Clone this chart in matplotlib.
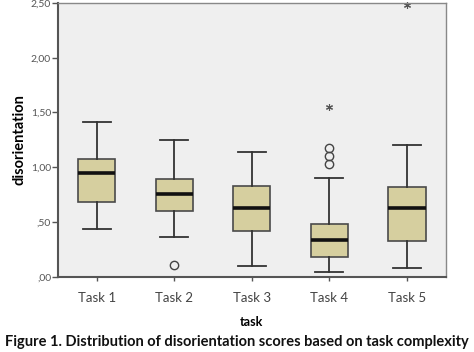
import matplotlib
matplotlib.use("Agg")
import matplotlib.pyplot as plt

categories = ["Task 1", "Task 2", "Task 3", "Task 4", "Task 5"]
whislo = [0.435, 0.36, 0.098, 0.04, 0.08]
q1 = [0.685, 0.597, 0.417, 0.177, 0.329]
med = [0.95, 0.758, 0.627, 0.338, 0.627]
q3 = [1.078, 0.889, 0.831, 0.478, 0.819]
whishi = [1.415, 1.245, 1.136, 0.90, 1.205]
outliers = [[], [0.11], [], [1.03, 1.105, 1.178], []]
extremes = [[], [], [], [1.553], [2.48]]
yticks = [0.0, 0.5, 1.0, 1.5, 2.0, 2.5]
ytick_labels = [",00", ",50", "1,00", "1,50", "2,00", "2,50"]

plt.rcParams['font.family'] = ['Lato', 'DejaVu Sans']

fig = plt.figure(figsize=(4.74, 3.52), dpi=100)
ax = fig.add_axes([0.1224, 0.2139, 0.8179, 0.7776])
ax.set_facecolor("#efefef")

stats = []
for i in range(len(categories)):
    stats.append(dict(med=med[i], q1=q1[i], q3=q3[i], whislo=whislo[i],
                      whishi=whishi[i], fliers=outliers[i], label=categories[i]))

pos = list(range(1, len(categories) + 1))
ax.bxp(stats, positions=pos, widths=0.48, patch_artist=True,
       boxprops=dict(facecolor="#d6cf9f", edgecolor="#4a4a4a", linewidth=1.2),
       medianprops=dict(color="#111111", linewidth=2.6),
       whiskerprops=dict(color="#333333", linewidth=1.3),
       capprops=dict(color="#333333", linewidth=1.3),
       capwidths=0.36,
       flierprops=dict(marker="o", markerfacecolor="none", markeredgecolor="#444444",
                       markersize=6, markeredgewidth=1.0, linestyle="none"))

for i, ex in enumerate(extremes):
    if ex:
        ax.plot([pos[i]] * len(ex), ex, linestyle="none", marker=(6, 2, 0),
                markersize=5, color="#555555", markeredgewidth=0.8, clip_on=False)

ax.set_xlim(0.5, 5.5)
ax.set_ylim(0, 2.5)
ax.set_yticks(yticks)
ax.set_yticklabels(ytick_labels, fontsize=7.5, color="#555555")
ax.set_xticks(pos)
ax.set_xticklabels(categories, fontsize=9.5, color="#444444")
ax.tick_params(axis='y', length=4, width=1, color="#555555", pad=1)
ax.tick_params(axis='x', length=3, width=1, color="#555555", pad=8)

for s in ["left", "bottom"]:
    ax.spines[s].set_color("#555555")
    ax.spines[s].set_linewidth(1.5)
for s in ["top", "right"]:
    ax.spines[s].set_color("#888888")
    ax.spines[s].set_linewidth(1.0)

ax.set_xlabel("task", fontsize=9, fontweight="bold", labelpad=9)
ax.set_ylabel("disorientation", fontsize=10.5, fontweight="bold", labelpad=3)

fig.text(0.5, 0.008, "Figure 1. Distribution of disorientation scores based on task complexity",
         ha="center", va="bottom", fontsize=10.5, fontweight="bold", color="#111111")

fig.savefig("out.png", dpi=100)
